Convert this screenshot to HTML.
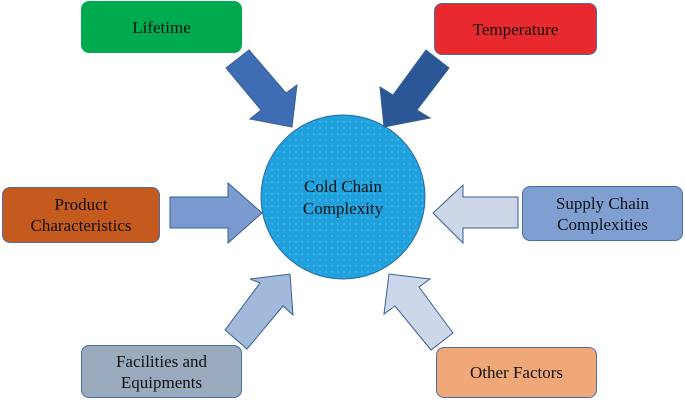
<!DOCTYPE html>
<html><head><style>
body{margin:0;width:685px;height:400px;background:#fff;overflow:hidden;position:relative;font-family:"Liberation Serif",serif}
.b{position:absolute;box-sizing:border-box;border:1px solid #4a6fa5;border-radius:8px;display:flex;align-items:center;justify-content:center;text-align:center;font-size:17px;line-height:21px;color:#111}
</style></head><body>
<svg width="685" height="400" style="position:absolute;left:0;top:0">
<defs><pattern id="d" width="6" height="6" patternUnits="userSpaceOnUse"><circle cx="2" cy="2" r="0.6" fill="#8fd0f0"/></pattern></defs>
<circle cx="343" cy="197" r="82" fill="#1ea1dd" stroke="#2b6aa3" stroke-width="1"/>
<circle cx="343" cy="197" r="81" fill="url(#d)"/>
<g stroke="#3a5f94" stroke-width="1">
<polygon points="226,68 249,50 286,93 297,85 292,127 250,119 261,110" fill="#3f6db3"/>
<polygon points="426,50 449,68 417,110 430,118 384,127 380,87 393,95" fill="#2b5797"/>
<polygon points="170,197 228,197 228,183 262,213 228,243 228,228 170,228" fill="#7b9bd0"/>
<polygon points="518,197 463,197 463,185 433,213 463,243 463,228 518,228" fill="#cdd7e8"/>
<polygon points="225,330 247,349 283,306 293,315 290,274 250,279 260,283" fill="#a3b9db"/>
<polygon points="453,333 431,350 395,306 384,314 389,274 430,279 419,287" fill="#ccd8ea"/>
</g>
</svg>
<div class="b" style="left:81px;top:1px;width:161px;height:52px;background:#00ab50;border-color:#00ab50">Lifetime</div>
<div class="b" style="left:434px;top:3px;width:163px;height:52px;background:#e8292d">Temperature</div>
<div class="b" style="left:2px;top:187px;width:158px;height:56px;background:#c55a1e">Product<br>Characteristics</div>
<div class="b" style="left:522px;top:186px;width:161px;height:55px;background:#7f9ed2">Supply Chain<br>Complexities</div>
<div class="b" style="left:81px;top:345px;width:161px;height:53px;background:#9aabbd">Facilities and<br>Equipments</div>
<div class="b" style="left:436px;top:347px;width:161px;height:51px;background:#f0a878">Other Factors</div>
<div style="position:absolute;left:261px;top:176px;width:164px;text-align:center;font-size:17px;line-height:22px;color:#111">Cold Chain<br>Complexity</div>
</body></html>
